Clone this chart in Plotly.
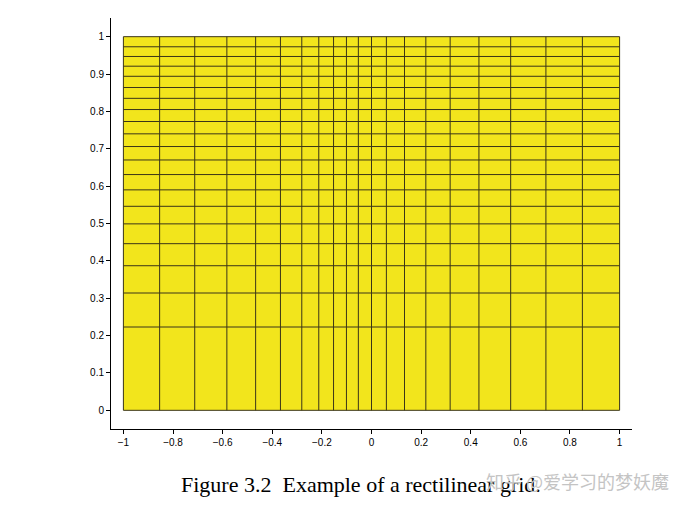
import plotly.graph_objects as go

# grid line positions
x_lines = [-1, -0.854, -0.7125, -0.583, -0.467, -0.367, -0.281, -0.2125, -0.153,
           -0.101, -0.053, 0, 0.060, 0.133, 0.219, 0.317, 0.433, 0.561, 0.703, 0.85, 1]
y_lines = [0, 0.223, 0.314, 0.387, 0.446, 0.499, 0.546, 0.590, 0.631, 0.670, 0.706,
           0.740, 0.773, 0.805, 0.835, 0.864, 0.894, 0.921, 0.947, 0.973, 1]
x_ticks = [-1, -0.8, -0.6, -0.4, -0.2, 0, 0.2, 0.4, 0.6, 0.8, 1]
y_ticks = [0, 0.1, 0.2, 0.3, 0.4, 0.5, 0.6, 0.7, 0.8, 0.9, 1]

YELLOW = "#F2E51C"
LINE = "#3a3518"

fig = go.Figure()
fig.add_trace(go.Scatter(x=[-1, 1, 1, -1, -1], y=[0, 0, 1, 1, 0], mode="lines",
                         fill="toself", fillcolor=YELLOW, line=dict(width=0),
                         hoverinfo="skip"))
vx, vy = [], []
for xv in x_lines:
    vx += [xv, xv, None]
    vy += [0, 1, None]
hx, hy = [], []
for yv in y_lines:
    hx += [-1, 1, None]
    hy += [yv, yv, None]
fig.add_trace(go.Scatter(x=vx + hx, y=vy + hy, mode="lines",
                         line=dict(color=LINE, width=1), hoverinfo="skip"))

axis = dict(showgrid=False, zeroline=False, showline=True, linecolor="black",
            linewidth=1, ticks="outside", ticklen=4, tickcolor="black",
            tickfont=dict(family="Liberation Sans, Arial", size=10, color="black"))
fig.update_xaxes(axis, range=[-1.05, 1.05], tickvals=x_ticks,
                 ticktext=[f"{v:g}".replace("-", "\u2212") for v in x_ticks])
fig.update_yaxes(axis, range=[-0.05, 1.05], tickvals=y_ticks,
                 ticktext=[f"{v:g}" for v in y_ticks])

fig.add_annotation(text="Figure 3.2  Example of a rectilinear grid.", xref="paper",
                   yref="paper", x=0.48, y=-0.1, yanchor="top", showarrow=False,
                   font=dict(family="Liberation Serif, Times New Roman", size=22,
                             color="black"))
fig.add_annotation(text="知乎 @爱学习的梦妖魔", xref="paper", yref="paper",
                   x=1.075, y=-0.09, xanchor="right", yanchor="top", showarrow=False,
                   font=dict(family="Noto Sans CJK SC", size=18, color="#c4c4c4"))

fig.update_layout(width=680, height=507, showlegend=False,
                  paper_bgcolor="white", plot_bgcolor="white",
                  margin=dict(l=103, r=56, t=10, b=86))
fig.write_html("out.html")
